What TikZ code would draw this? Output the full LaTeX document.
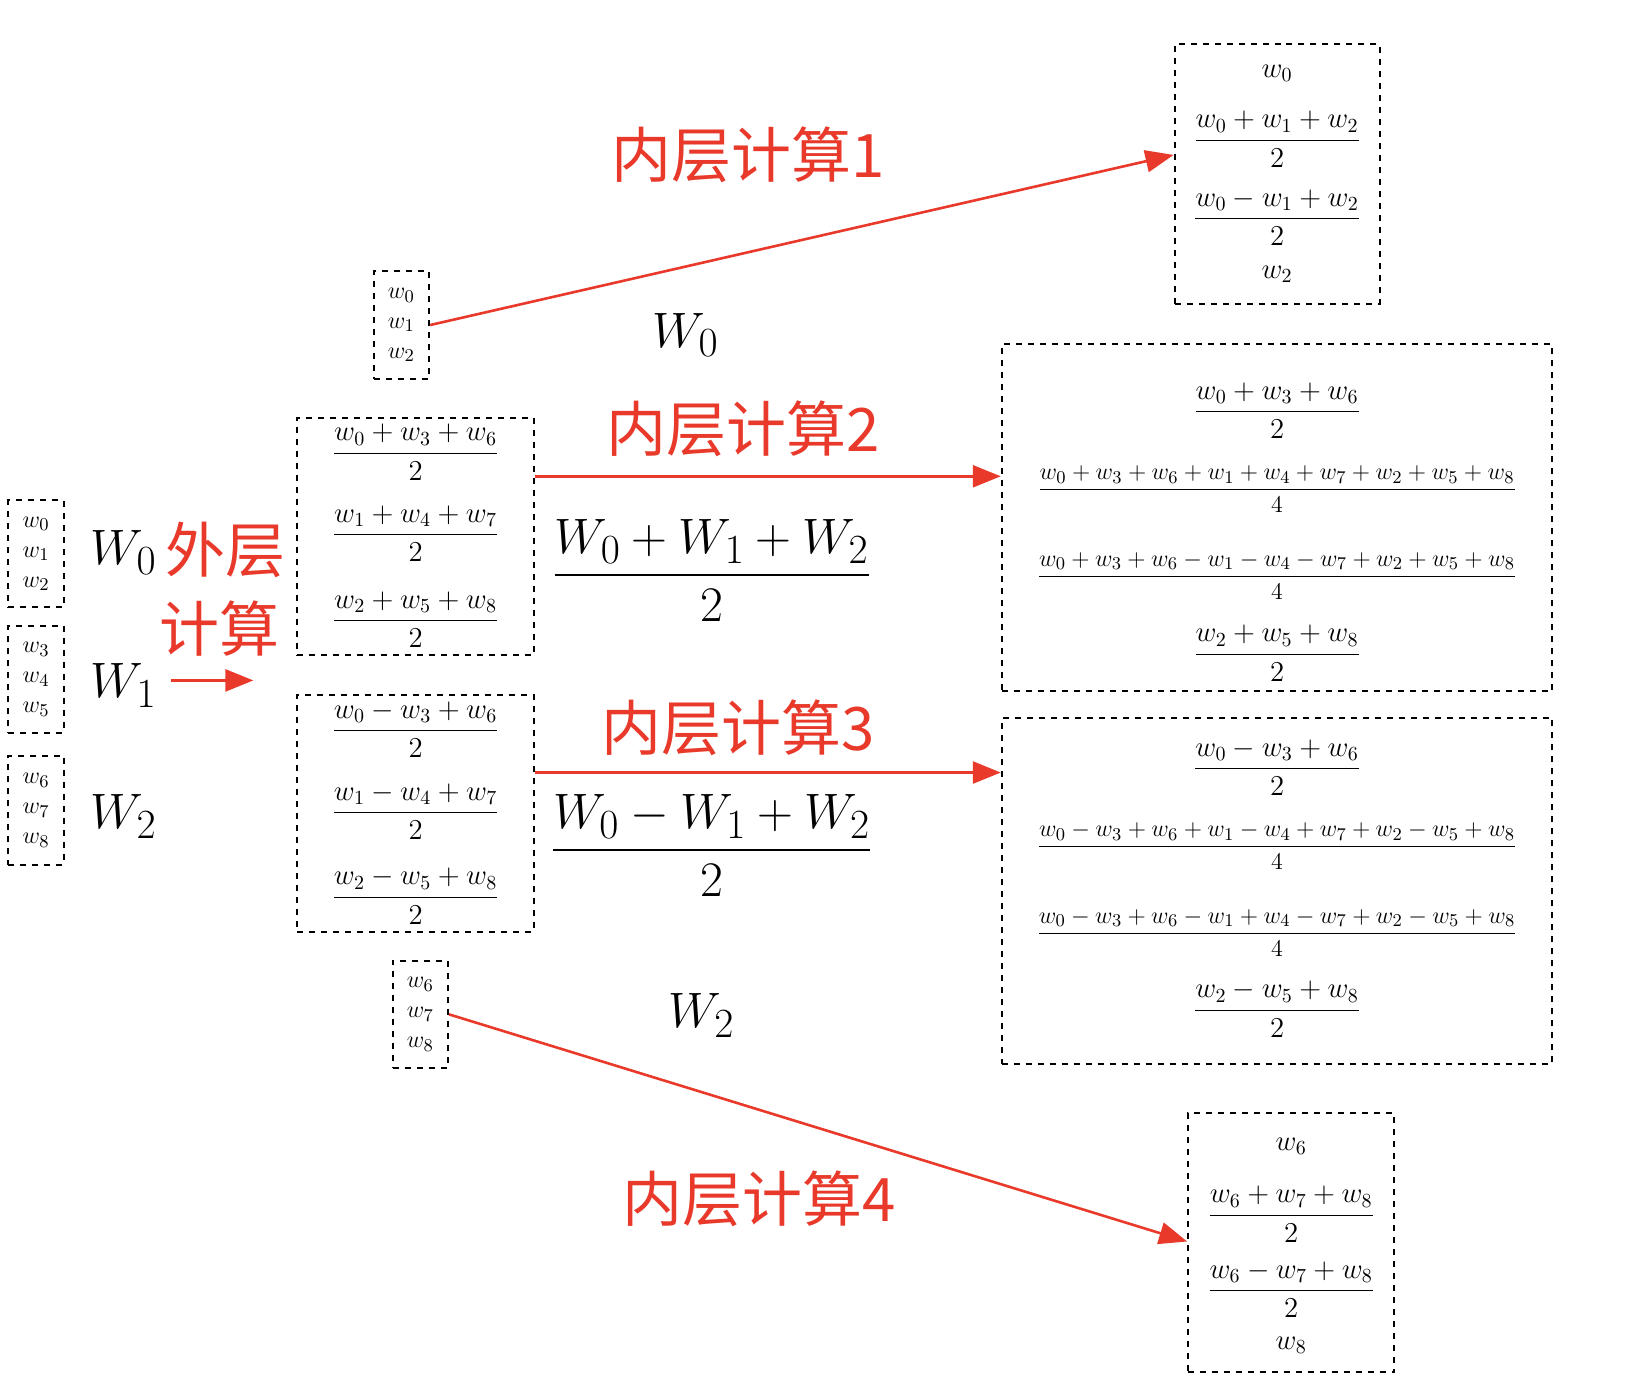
\documentclass[tikz,border=0pt]{standalone}
\usepackage{amsmath}
\usepackage{fontspec}
\newfontfamily\cjk{Noto Sans CJK SC}
\usetikzlibrary{arrows.meta}
\definecolor{hred}{HTML}{E8392A}
\begin{document}
\begin{tikzpicture}[x=0.5235pt,y=-0.5235pt,
  box/.style={draw,dashed,line width=1pt,inner sep=0},
  red/.style={text=hred,font=\cjk\fontsize{30}{32}\selectfont},
  arr/.style={draw=hred,line width=1.3pt,-{Triangle[length=14pt,width=11pt]}},
  sm/.style={font=\fontsize{14}{16}\selectfont},
  lg/.style={font=\fontsize{12.5}{14}\selectfont},
  tiny/.style={font=\fontsize{13}{15}\selectfont,align=center},
  big/.style={font=\fontsize{30}{32}\selectfont}]
\useasboundingbox (0,0) rectangle (1560,1328);
% left input boxes
\node[box,minimum width=27.7pt,minimum height=53.4pt,tiny] (L1) at (34.5,529) {$w_0$\\$w_1$\\$w_2$};
\node[box,minimum width=27.7pt,minimum height=53.4pt,tiny] (L2) at (34.5,649) {$w_3$\\$w_4$\\$w_5$};
\node[box,minimum width=27.7pt,minimum height=54.4pt,tiny] (L3) at (34.5,774) {$w_6$\\$w_7$\\$w_8$};
\node[big] (W0a) at (118,528) {$W_0$};
\node[big] (W1a) at (118,655) {$W_1$};
\node[big] (W2a) at (118,780) {$W_2$};
\node[red] (outer1) at (215,525) {外层};
\node[red] (outer2) at (210,600) {计算};
\coordinate (oa) at (163,650);
\coordinate (ob) at (242,650);
\draw[arr] (oa) -- (ob);
% box A, B
\node[box,minimum width=118.3pt,minimum height=118.8pt] (A) at (397,512.5) {};
\node[sm] (A1) at (397,432) {$\dfrac{w_0+w_3+w_6}{2}$};
\node[sm] (A2) at (397,510) {$\dfrac{w_1+w_4+w_7}{2}$};
\node[sm] (A3) at (397,592) {$\dfrac{w_2+w_5+w_8}{2}$};
\node[box,minimum width=118.3pt,minimum height=118.3pt] (B) at (397,777) {};
\node[sm] (B1) at (397,697) {$\dfrac{w_0-w_3+w_6}{2}$};
\node[sm] (B2) at (397,775) {$\dfrac{w_1-w_4+w_7}{2}$};
\node[sm] (B3) at (397,856) {$\dfrac{w_2-w_5+w_8}{2}$};
% small boxes
\node[box,minimum width=27.7pt,minimum height=53.9pt,tiny] (S1) at (383.5,310.5) {$w_0$\\$w_1$\\$w_2$};
\node[box,minimum width=27.7pt,minimum height=53.4pt,tiny] (S2) at (401.5,969) {$w_6$\\$w_7$\\$w_8$};
% box1
\node[box,minimum width=102.6pt,minimum height=129.8pt] (R1) at (1220,166) {};
\node[sm] (R1a) at (1220,70) {$w_0$};
\node[sm] (R1b) at (1220,133) {$\dfrac{w_0+w_1+w_2}{2}$};
\node[sm] (R1c) at (1220,208) {$\dfrac{w_0-w_1+w_2}{2}$};
\node[sm] (R1d) at (1220,262) {$w_2$};
% box2
\node[box,minimum width=275.4pt,minimum height=173.3pt] (R2) at (1220,494.5) {};
\node[sm] (R2a) at (1220,392) {$\dfrac{w_0+w_3+w_6}{2}$};
\node[lg] (R2b) at (1220,467) {$\dfrac{w_0+w_3+w_6+w_1+w_4+w_7+w_2+w_5+w_8}{4}$};
\node[lg] (R2c) at (1220,550) {$\dfrac{w_0+w_3+w_6-w_1-w_4-w_7+w_2+w_5+w_8}{4}$};
\node[sm] (R2d) at (1220,624) {$\dfrac{w_2+w_5+w_8}{2}$};
% box3
\node[box,minimum width=275.4pt,minimum height=172.8pt] (R3) at (1220,851) {};
\node[sm] (R3a) at (1220,733) {$\dfrac{w_0-w_3+w_6}{2}$};
\node[lg] (R3b) at (1220,808) {$\dfrac{w_0-w_3+w_6+w_1-w_4+w_7+w_2-w_5+w_8}{4}$};
\node[lg] (R3c) at (1220,891) {$\dfrac{w_0-w_3+w_6-w_1+w_4-w_7+w_2-w_5+w_8}{4}$};
\node[sm] (R3d) at (1220,964) {$\dfrac{w_2-w_5+w_8}{2}$};
% box4
\node[box,minimum width=103.1pt,minimum height=129.8pt] (R4) at (1233.5,1187) {};
\node[sm] (R4a) at (1233.5,1095) {$w_6$};
\node[sm] (R4b) at (1233.5,1160) {$\dfrac{w_6+w_7+w_8}{2}$};
\node[sm] (R4c) at (1233.5,1232) {$\dfrac{w_6-w_7+w_8}{2}$};
\node[sm] (R4d) at (1233.5,1285) {$w_8$};
% labels
\node[red] (I1) at (715,148) {内层计算1};
\node[red] (I2) at (710,410) {内层计算2};
\node[red] (I3) at (705,695) {内层计算3};
\node[red] (I4) at (725,1145) {内层计算4};
\node[big] (M0) at (655,320) {$W_0$};
\node[big] (M1) at (680,545) {$\dfrac{W_0+W_1+W_2}{2}$};
\node[big] (M2) at (680,808) {$\dfrac{W_0-W_1+W_2}{2}$};
\node[big] (M3) at (670,970) {$W_2$};
% arrows
\draw[arr] (S1.east) -- (R1.west |- 0,148);
\draw[arr] (S2.east) -- (R4.west |- 0,1186);
\draw[arr] (A.east |- 0,455) -- (R2.west |- 0,455);
\draw[arr] (B.east |- 0,738) -- (R3.west |- 0,738);
\end{tikzpicture}
\end{document}
